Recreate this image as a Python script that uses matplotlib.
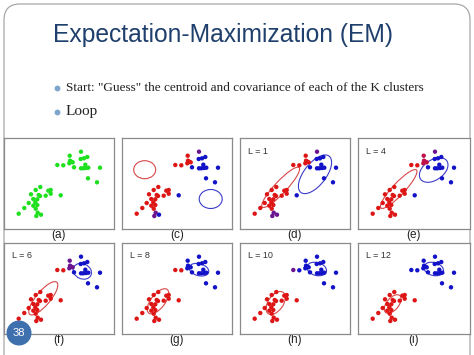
import matplotlib.pyplot as plt
from matplotlib.patches import Ellipse, FancyBboxPatch, Circle

# shared 2-D data set, panel units (x to the right, y up)
pts_x = [77, 65.7, 83.3, 80, 76.7, 66, 67.3, 68.7, 65.3, 53.3, 59.3, 70, 77, 79.3,
         82, 84.3, 81.3, 96, 84, 93, 36.3, 31.7, 44.3, 46.7, 27, 34.7, 36, 41.7,
         46.7, 56.7, 29.3, 33.3, 24.7, 31.3, 29.3, 33.3, 20.3, 31.7, 14.7, 33.7,
         37, 32.3]
pts_y = [77.3, 73.3, 72, 70.7, 70, 68.3, 67.3, 66.7, 65.7, 64, 63.7, 61.7, 60.7,
         60.7, 61, 61.3, 64.3, 61.3, 50.7, 46.7, 42, 39, 38.3, 39, 34.7, 34, 33,
         33.3, 35.3, 33.7, 30, 29.7, 26, 26.7, 23.3, 24, 21, 20.3, 15.3, 16.3,
         14.3, 13]

captions = ['(a)', '(c)', '(d)', '(e)', '(f)', '(g)', '(h)', '(i)']
iters = [None, None, 'L = 1', 'L = 4', 'L = 6', 'L = 8', 'L = 10', 'L = 12']

# cluster colour of every point in every panel
assign = [
    'g' * 42,
    'prbbbrrrrrrbbbbbbbbb' + 'rrrrrrrrr' + 'b' + 'rrrrrrrrr' + 'pbp',
    'prbbbrrrrrrbbbbbbbbb' + 'rrrrrrrrr' + 'b' + 'rrrrrrrrr' + 'ppp',
    'pmbbbmmmmrrbbbbbbbbb' + 'rrrrrrrrr' + 'b' + 'rrrrrrrrr' + 'rrr',
    'bpbbbpppprrbbbbbbbbb' + 'r' * 22,
    'bbbbbbbbbrrbbbbbbbbb' + 'r' * 22,
    'bbbbbbbbbpbbbbbbbbbb' + 'r' * 22,
    'b' * 20 + 'r' * 22,
]

# gaussian contours: (cx, cy, width, height, angle) for red and blue clusters
red_ell = [None, (22.7, 59.3, 22, 18, 0), (40.7, 41.7, 54, 12, 47),
           (40.7, 40, 52, 12, 47), (39.3, 35.7, 42, 14, 50),
           (36, 32.7, 30, 14, 52), (35.7, 31, 26, 15, 55), (34.7, 30, 22, 12, 50)]
blue_ell = [None, (88.7, 30, 23, 19, 0), (75, 54.7, 46, 22, 52),
            (75.7, 59, 32, 20, 35), (78.3, 62.7, 19, 15, -25),
            (77, 64.3, 20, 12, -15), (76.7, 65, 20, 13, -15), (75.7, 65, 20, 13, -15)]

cmap = {'g': '#1fe01f', 'r': '#dd1515', 'b': '#1212c8', 'p': '#6a1490', 'm': '#c0104a'}

W, H = 474, 355
fig = plt.figure(figsize=(W / 100, H / 100), dpi=100)

# slide background
bg = fig.add_axes([0, 0, 1, 1])
bg.set_xlim(0, W)
bg.set_ylim(H, 0)
bg.axis('off')
bg.add_patch(FancyBboxPatch((4, 4), 466, 380, boxstyle='round,pad=0,rounding_size=16',
                            fc='white', ec='#a8a8a8', lw=0.9))
bg.text(223, 35, 'Expectation-Maximization (EM)', fontsize=17.7, color='#1f3f6c',
        family='Liberation Sans', ha='center', va='center')
bg.plot([57, 57], [88, 112], 'o', ms=3.2, color='#7ea6cc', ls='none')
bg.text(66, 88, 'Start: "Guess" the centroid and covariance of each of the K clusters',
        fontsize=9.5, family='Liberation Serif', va='center', color='#222')
bg.text(66, 112, 'Loop', fontsize=11, family='Liberation Serif', va='center', color='#222')

cols = [4, 122, 240, 358]
tops = [138, 243]
for i in range(8):
    x0 = cols[i % 4]
    y0 = tops[i // 4]
    w = 112 if i % 4 == 3 else 110
    ax = fig.add_axes([x0 / W, 1 - (y0 + 91) / H, w / W, 91 / H])
    ax.set_xlim(0, w)
    ax.set_ylim(0, 91)
    ax.set_xticks([])
    ax.set_yticks([])
    for s in ax.spines.values():
        s.set_color('#8a8a8a')
        s.set_linewidth(0.9)
    ax.scatter(pts_x, pts_y, s=10, c=[cmap[c] for c in assign[i]], linewidths=0, zorder=3)
    for ell, col in ((red_ell[i], '#d84848'), (blue_ell[i], '#3c3cc8')):
        if ell:
            cx, cy, ew, eh, ang = ell
            ax.add_patch(Ellipse((cx, cy), ew, eh, angle=ang, fill=False, ec=col, lw=0.8))
    if iters[i]:
        ax.text(8, 78, iters[i], fontsize=6.5, color='#333', family='Liberation Sans',
                va='center')
    bg.text(x0 + w / 2, y0 + 97, captions[i], fontsize=8.5, family='Liberation Sans',
            ha='center', va='center', color='#222')

# page number badge
top = fig.add_axes([0, 0, 1, 1], zorder=10)
top.set_xlim(0, W)
top.set_ylim(H, 0)
top.axis('off')
top.add_patch(Circle((19, 333), 12.5, fc='#3f70ae', ec='none'))
top.text(19, 333, '38', color='white', fontsize=8, ha='center', va='center',
         family='Liberation Sans')

fig.savefig('out.png', dpi=100)
